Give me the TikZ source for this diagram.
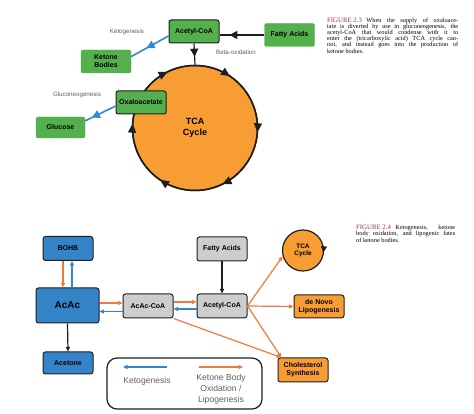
\documentclass[tikz,border=0pt]{standalone}
\usepackage{fontspec}
\setmainfont{Liberation Serif}
\setsansfont{Liberation Sans}
\usetikzlibrary{arrows.meta, positioning, decorations.markings}

\definecolor{kgreen}{RGB}{84,176,76}
\definecolor{korange}{RGB}{247,157,52}
\definecolor{kblue}{RGB}{54,132,200}
\definecolor{karrblue}{RGB}{48,136,206}
\definecolor{karrorange}{RGB}{240,122,60}
\definecolor{kgray}{RGB}{205,205,205}
\definecolor{kedge}{RGB}{30,30,30}
\definecolor{ktext}{RGB}{95,95,95}
\definecolor{figred}{RGB}{170,45,65}

\newcommand{\figtag}[1]{\mbox{\fontsize{6.8}{6.2}\selectfont\color{figred}FIGURE #1}\hspace{4.5pt}}

\begin{document}
\begin{tikzpicture}[x=1pt, y=1pt,
    gbox/.style={rectangle, fill=kgreen, draw=kgreen, rounded corners=2pt, align=center, minimum width=50pt, minimum height=23pt, inner sep=1pt, font=\sffamily\bfseries\fontsize{7}{8}\selectfont},
    gboxd/.style={gbox, draw=kedge, line width=1pt},
    fbox/.style={rectangle, draw=kedge, line width=1pt, rounded corners=2.5pt, align=center, minimum width=50pt, minimum height=24pt, inner sep=1pt, font=\sffamily\bfseries\fontsize{7}{8}\selectfont},
    lbl/.style={text=ktext, font=\sffamily\fontsize{6.2}{7}\selectfont},
    capt/.style={inner sep=0pt, align=justify, anchor=north west, font=\fontsize{6.3}{6.2}\selectfont},
    tipmid/.style={postaction={decorate}, decoration={markings, mark=at position #1 with {\arrow{Triangle[length=8pt,width=8pt]}}}},
    blkmid/.style={draw=kedge, line width=1.2pt, tipmid=#1},
    bluemid/.style={draw=karrblue, line width=1.6pt, tipmid=#1},
    ringtips/.style={draw=kedge, line width=1.5pt, postaction={decorate}, decoration={markings, mark=between positions 0.1556 and 1 step 0.16667 with {\arrowreversed{Triangle[length=9pt,width=8pt]}}}},
    arr/.style={-{Triangle[length=4.5pt,width=4pt]}, line width=1.2pt},
    oarr/.style={arr, draw=karrorange},
    barr/.style={arr, draw=karrblue},
    karr/.style={arr, draw=kedge}
]
\useasboundingbox (0,0) rectangle (474,414);

% FIGURE 2.3
\node[circle, fill=korange, draw=kedge, line width=1.5pt, minimum size=125pt, inner sep=0pt, align=center, font=\sffamily\bfseries\fontsize{9}{10.5}\selectfont] (tca) at (195,286) {TCA\\Cycle};
\draw[ringtips] (tca.center) circle [radius=62.5];

\node[gboxd] (acetyl) at (194,382.5) {Acetyl-CoA};
\node[gbox] (fatty) at (289.5,379) {Fatty Acids};
\node[gbox] (ketone) at (106,352.5) {Ketone\\Bodies};
\node[gboxd] (oxalo) at (141,311.5) {Oxaloacetate};
\node[gbox, minimum width=49pt, minimum height=21pt] (glucose) at (60.5,286.5) {Glucose};

\node[lbl] (ketolbl) at (127,382) {Ketogenesis};
\node[lbl] (betalbl) at (236,362) {Beta-oxidation};
\node[lbl] (gluclbl) at (77,319) {Gluconeogenesis};

\draw[blkmid=0.78] (fatty.west) -- (acetyl.east |- fatty.west);
\draw[blkmid=0.62] (acetyl.south) -- (tca.north);
\draw[bluemid=0.59] (acetyl.190) -- (ketone.11);
\draw[bluemid=0.78] (oxalo.188) -- (glucose.15);

\node[capt, text width=131pt] (cap23) at (327,396.5) {\figtag{2.3}When the supply of oxaloace-\linebreak tate is diverted by use in gluconeogenesis, the\linebreak acetyl-CoA that would condense with it to\linebreak enter the (tricarboxylic acid) TCA cycle can-\linebreak not, and instead goes into the production of\linebreak ketone bodies.};

% FIGURE 2.4
\node[fbox, fill=kblue] (bohb) at (68,165.5) {BOHB};
\node[fbox, fill=kblue, minimum width=63pt, minimum height=35pt, font=\sffamily\bfseries\fontsize{10}{11}\selectfont] (acac) at (67.5,108.5) {AcAc};
\node[fbox, fill=kblue, minimum height=22pt] (acetone) at (68,51) {Acetone};
\node[fbox, fill=kgray] (acaccoa) at (148,108) {AcAc-CoA};
\node[fbox, fill=kgray] (fatty2) at (222,165) {Fatty Acids};
\node[fbox, fill=kgray] (acetyl2) at (222,108) {Acetyl-CoA};
\node[circle, fill=korange, draw=kedge, line width=1.2pt, minimum size=41pt, inner sep=0pt, align=center, font=\sffamily\bfseries\fontsize{6.5}{7.5}\selectfont] (tca2) at (303,163.5) {TCA\\Cycle};
\path[postaction={decorate}, decoration={markings, mark=at position 0.985 with {\arrowreversed[kedge]{Triangle[length=6pt,width=6pt]}}}] (tca2.center) circle [radius=20.5];
\node[fbox, fill=korange, minimum height=23pt] (denovo) at (319,107.5) {de Novo\\Lipogenesis};
\node[fbox, fill=korange] (chol) at (303,44) {Cholesterol\\Synthesis};

\draw[oarr] (bohb.south -| 63,0) -- (acac.north -| 63,0);
\draw[barr] (acac.north -| 72,0) -- (bohb.south -| 72,0);
\draw[karr] (acac.south) -- (acetone.north);
\draw[oarr] (acac.east |- 0,111) -- (acaccoa.west |- 0,111);
\draw[barr] (acaccoa.west |- 0,102.5) -- (acac.east |- 0,102.5);
\draw[oarr] (acaccoa.east |- 0,112) -- (acetyl2.west |- 0,112);
\draw[barr] (acetyl2.west |- 0,105) -- (acaccoa.east |- 0,105);
\draw[karr] (fatty2.south) -- (acetyl2.north);
\draw[oarr] (acetyl2.east) -- (tca2.196);
\draw[oarr] (acetyl2.east) -- (denovo.west);
\draw[oarr] (acetyl2.east) -- (chol.150);
\draw[oarr] (acaccoa.south east) -- (chol.150);

% Legend
\node[draw=kedge, line width=1.2pt, rounded corners=10pt, minimum width=155pt, minimum height=51pt] (legend) at (184.5,30.5) {};
\coordinate (kgfrom) at (167,47);
\coordinate (kgto) at (123,47);
\coordinate (oxfrom) at (199,47);
\coordinate (oxto) at (243,47);
\draw[barr] (kgfrom) -- (kgto);
\draw[oarr] (oxfrom) -- (oxto);
\node[text=ktext, font=\sffamily\fontsize{8.6}{11}\selectfont] (kglbl) at (147,33) {Ketogenesis};
\node[text=ktext, align=center, font=\sffamily\fontsize{8.6}{11}\selectfont] (oxlbl) at (221,25) {Ketone Body\\Oxidation /\\Lipogenesis};

\node[capt, text width=99pt] (cap24) at (356,189) {\figtag{2.4}Ketogenesis, ketone\linebreak body oxidation, and lipogenic fates\linebreak of ketone bodies.};

\end{tikzpicture}
\end{document}
